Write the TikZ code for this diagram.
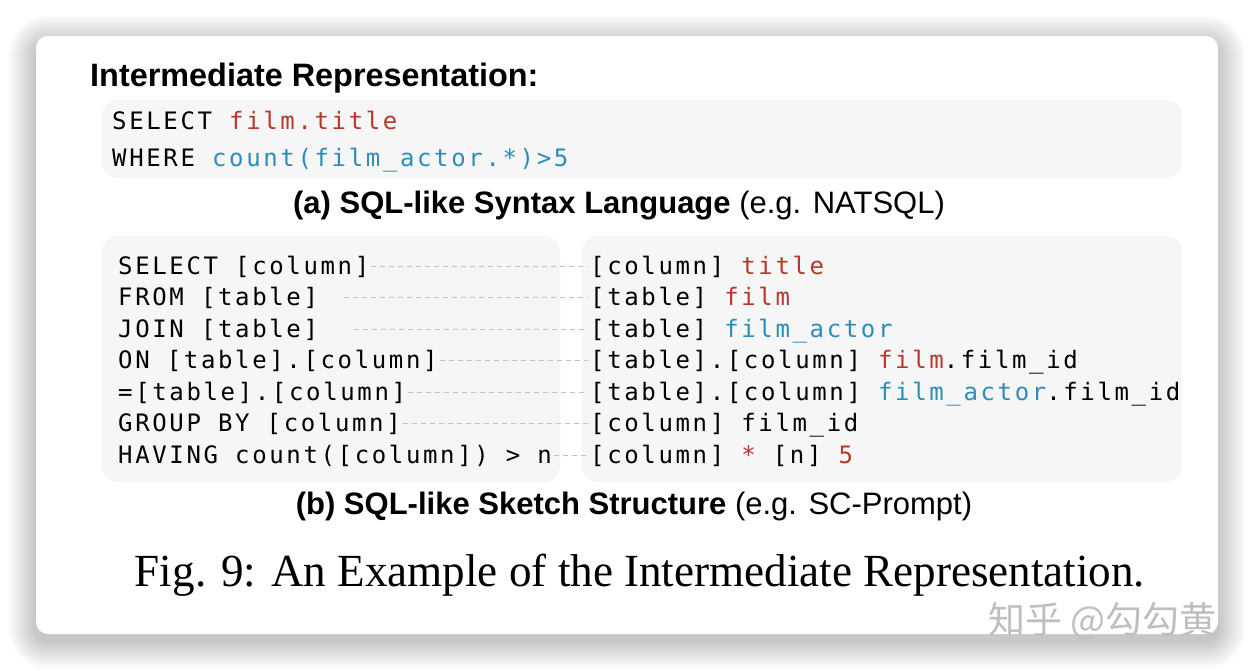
\documentclass[tikz,border=0pt]{standalone}
\usepackage{fontspec}
\setmainfont{Liberation Serif}
\setsansfont{Liberation Sans}
\newfontfamily\codefont[LetterSpace=11]{DejaVu Sans Mono}
\newfontfamily\figfont[FakeStretch=0.98]{Liberation Serif}
\newfontfamily\cjkfont{Noto Sans CJK SC}
\definecolor{sqlred}{HTML}{B5392C}
\definecolor{sqlblue}{HTML}{2B8DBA}
\definecolor{panelgray}{HTML}{F6F6F6}
\definecolor{dashgray}{HTML}{C2C2C2}
\tikzset{
  code/.style={anchor=base west, inner xsep=2pt, inner ysep=0pt,
    text height=18pt, text depth=3pt,
    font=\codefont\fontsize{24}{28}\selectfont},
  panel/.style={fill=panelgray, rounded corners=16pt},
  link/.style={draw=dashgray, dash pattern=on 5pt off 4pt, line width=1.5pt},
  heading/.style={anchor=base west, inner sep=0pt,
    font=\sffamily\bfseries\fontsize{32.4}{36}\selectfont},
  subcap/.style={anchor=base, inner sep=0pt,
    font=\sffamily\fontsize{31}{35}\selectfont},
}
\begin{document}
\begin{tikzpicture}[x=1pt,y=-1pt]
  \useasboundingbox (0,0) rectangle (1254,670);
  \fill[white] (0,0) rectangle (1254,670);
  % card shadow
  \foreach \s in {1,...,28}
    \fill[black, opacity=0.007, rounded corners=12pt+\s pt]
      (36-\s,36-\s+7) rectangle (1218+\s,634+\s+7);
  \fill[white, rounded corners=12pt] (36,36) rectangle (1218,634);
  \node[heading] (title) at (90,86) {Intermediate Representation:};
  % (a) panel
  \fill[panel] (102,100) rectangle (1182,178);
  \node[code] (sel) at (110,129) {SELECT \textcolor{sqlred}{film.title}};
  \node[code] (whr) at (110,166) {WHERE \textcolor{sqlblue}{count(film\_actor.*)>5}};
  \node[subcap] (capa) at (619,213) {\textbf{(a) SQL-like Syntax Language} (e.g. NATSQL)};
  % (b) panels
  \fill[panel] (102,236) rectangle (560,482);
  \fill[panel] (582,236) rectangle (1182,482);
  \node[code] (l1) at (116,274) {SELECT [column]};
  \node[code] (l2) at (116,305) {FROM [table]};
  \node[code] (l3) at (116,337) {JOIN [table]};
  \node[code] (l4) at (116,368) {ON [table].[column]};
  \node[code] (l5) at (116,400) {=[table].[column]};
  \node[code] (l6) at (116,431) {GROUP BY [column]};
  \node[code] (l7) at (116,463) {HAVING count([column]) > n};
  \node[code] (r1) at (588,274) {[column] \textcolor{sqlred}{title}};
  \node[code] (r2) at (588,305) {[table] \textcolor{sqlred}{film}};
  \node[code] (r3) at (588,337) {[table] \textcolor{sqlblue}{film\_actor}};
  \node[code] (r4) at (588,368) {[table].[column] \textcolor{sqlred}{film}.film\_id};
  \node[code] (r5) at (588,400) {[table].[column] \textcolor{sqlblue}{film\_actor}.film\_id};
  \node[code] (r6) at (588,431) {[column] film\_id};
  \node[code] (r7) at (588,463) {[column] \textcolor{sqlred}{* }[n] \textcolor{sqlred}{5}};
  % dashed links
  \draw[link] (l1.east) -- (r1.west);
  \draw[link] ([xshift=24pt]l2.east) -- (r2.west);
  \draw[link] ([xshift=34pt]l3.east) -- (r3.west);
  \draw[link] (l4.east) -- (r4.west);
  \draw[link] (l5.east) -- (r5.west);
  \draw[link] (l6.east) -- (r6.west);
  \draw[link] (l7.east) -- (r7.west);
  \node[subcap] (capb) at (634,514) {\textbf{(b) SQL-like Sketch Structure} (e.g. SC-Prompt)};
  \node[anchor=base, inner sep=0pt, font=\figfont\fontsize{46}{50}\selectfont] (fig)
    at (640,586) {Fig. 9: An Example of the Intermediate Representation.};
  \node[anchor=base west, inner sep=0pt, text=black!25,
    font=\cjkfont\fontsize{37}{40}\selectfont] (mark) at (988,633) {知乎 @勾勾黄};
\end{tikzpicture}
\end{document}
